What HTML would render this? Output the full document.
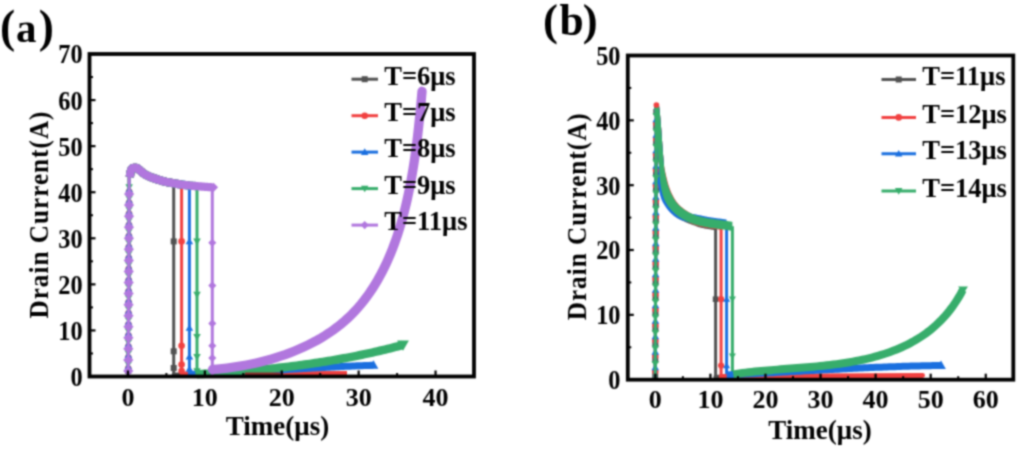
<!DOCTYPE html>
<html><head><meta charset="utf-8"><style>
html,body{margin:0;padding:0;background:#fff;width:1018px;height:449px;overflow:hidden}
svg{display:block}
</style></head><body>
<svg width="1018" height="449" viewBox="0 0 1018 449"><defs><filter id="bl" x="0" y="0" width="1018" height="449" filterUnits="userSpaceOnUse" color-interpolation-filters="sRGB"><feConvolveMatrix order="5" kernelMatrix="0.00048 0.00501 0.01095 0.00501 0.00048 0.00501 0.05222 0.11405 0.05222 0.00501 0.01095 0.11405 0.24912 0.11405 0.01095 0.00501 0.05222 0.11405 0.05222 0.00501 0.00048 0.00501 0.01095 0.00501 0.00048" edgeMode="duplicate" preserveAlpha="true"/></filter></defs><g filter="url(#bl)"><rect width="1018" height="449" fill="#fff"/><line x1="128.2" y1="376" x2="129.3" y2="170" stroke="#515151" stroke-width="3"/>
<rect x="125.23" y="367.97" width="6" height="6" fill="#515151"/>
<rect x="125.28" y="356.91" width="6" height="6" fill="#515151"/>
<rect x="125.34" y="345.86" width="6" height="6" fill="#515151"/>
<rect x="125.39" y="334.8" width="6" height="6" fill="#515151"/>
<rect x="125.45" y="323.74" width="6" height="6" fill="#515151"/>
<rect x="125.5" y="312.69" width="6" height="6" fill="#515151"/>
<rect x="125.56" y="301.63" width="6" height="6" fill="#515151"/>
<rect x="125.61" y="290.57" width="6" height="6" fill="#515151"/>
<rect x="125.67" y="279.51" width="6" height="6" fill="#515151"/>
<rect x="125.72" y="268.46" width="6" height="6" fill="#515151"/>
<rect x="125.78" y="257.4" width="6" height="6" fill="#515151"/>
<rect x="125.83" y="246.34" width="6" height="6" fill="#515151"/>
<rect x="125.89" y="235.29" width="6" height="6" fill="#515151"/>
<rect x="125.94" y="224.23" width="6" height="6" fill="#515151"/>
<rect x="126" y="213.17" width="6" height="6" fill="#515151"/>
<rect x="126.05" y="202.11" width="6" height="6" fill="#515151"/>
<rect x="126.11" y="191.06" width="6" height="6" fill="#515151"/>
<path d="M129.8,177 L130.49,172.22 L131.19,170.12 L131.88,168.87 L132.57,168.13 L133.27,168 L133.96,168 L134.65,168 L135.35,168 L136.04,168 L136.73,168.02 L137.43,168.3 L138.12,168.81 L138.81,169.45 L139.51,170.09 L140.2,170.65 L140.89,171.2 L141.59,171.78 L142.28,172.37 L142.97,172.95 L143.67,173.5 L144.36,174 L145.05,174.43 L145.75,174.81 L146.44,175.17 L147.13,175.51 L147.83,175.84 L148.52,176.15 L149.21,176.45 L149.91,176.73 L150.6,177 L151.29,177.27 L151.98,177.53 L152.68,177.78 L153.37,178.03 L154.06,178.27 L154.76,178.52 L155.45,178.76 L156.14,179 L156.84,179.23 L157.53,179.46 L158.22,179.69 L158.92,179.91 L159.61,180.13 L160.3,180.34 L161,180.54 L161.69,180.74 L162.38,180.94 L163.08,181.12 L163.77,181.3 L164.46,181.47 L165.16,181.64 L165.85,181.79 L166.54,181.94 L167.24,182.09 L167.93,182.23 L168.62,182.37 L169.32,182.5 L170.01,182.63 L170.7,182.76 L171.4,182.88 L172.09,183.01 L172.78,183.13 L173.48,183.24 L173.7,183.28" fill="none" stroke="#515151" stroke-width="8.3" stroke-linejoin="round" stroke-linecap="butt"/>
<line x1="173.7" y1="183.28" x2="173.7" y2="375" stroke="#515151" stroke-width="3"/>
<rect x="170.7" y="238.4" width="6" height="6" fill="#515151"/>
<rect x="170.7" y="348.3" width="6" height="6" fill="#515151"/>
<rect x="170.7" y="365" width="6" height="6" fill="#515151"/>
<path d="M173.7,374.5 L281,374.5" fill="none" stroke="#515151" stroke-width="4" stroke-linecap="round"/>
<line x1="128.2" y1="376" x2="129.3" y2="170" stroke="#F14040" stroke-width="3"/>
<circle cx="128.24" cy="368.67" r="3.3" fill="#F14040"/>
<circle cx="128.29" cy="357.61" r="3.3" fill="#F14040"/>
<circle cx="128.35" cy="346.55" r="3.3" fill="#F14040"/>
<circle cx="128.4" cy="335.5" r="3.3" fill="#F14040"/>
<circle cx="128.46" cy="324.44" r="3.3" fill="#F14040"/>
<circle cx="128.51" cy="313.38" r="3.3" fill="#F14040"/>
<circle cx="128.57" cy="302.33" r="3.3" fill="#F14040"/>
<circle cx="128.62" cy="291.27" r="3.3" fill="#F14040"/>
<circle cx="128.68" cy="280.21" r="3.3" fill="#F14040"/>
<circle cx="128.73" cy="269.15" r="3.3" fill="#F14040"/>
<circle cx="128.79" cy="258.1" r="3.3" fill="#F14040"/>
<circle cx="128.84" cy="247.04" r="3.3" fill="#F14040"/>
<circle cx="128.9" cy="235.98" r="3.3" fill="#F14040"/>
<circle cx="128.96" cy="224.93" r="3.3" fill="#F14040"/>
<circle cx="129.01" cy="213.87" r="3.3" fill="#F14040"/>
<circle cx="129.07" cy="202.81" r="3.3" fill="#F14040"/>
<circle cx="129.12" cy="191.75" r="3.3" fill="#F14040"/>
<path d="M129.8,177 L130.49,172.22 L131.19,170.12 L131.88,168.87 L132.57,168.13 L133.27,168 L133.96,168 L134.65,168 L135.35,168 L136.04,168 L136.73,168.02 L137.43,168.3 L138.12,168.81 L138.81,169.45 L139.51,170.09 L140.2,170.65 L140.89,171.2 L141.59,171.78 L142.28,172.37 L142.97,172.95 L143.67,173.5 L144.36,174 L145.05,174.43 L145.75,174.81 L146.44,175.17 L147.13,175.51 L147.83,175.84 L148.52,176.15 L149.21,176.45 L149.91,176.73 L150.6,177 L151.29,177.27 L151.98,177.53 L152.68,177.78 L153.37,178.03 L154.06,178.27 L154.76,178.52 L155.45,178.76 L156.14,179 L156.84,179.23 L157.53,179.46 L158.22,179.69 L158.92,179.91 L159.61,180.13 L160.3,180.34 L161,180.54 L161.69,180.74 L162.38,180.94 L163.08,181.12 L163.77,181.3 L164.46,181.47 L165.16,181.64 L165.85,181.79 L166.54,181.94 L167.24,182.09 L167.93,182.23 L168.62,182.37 L169.32,182.5 L170.01,182.63 L170.7,182.76 L171.4,182.88 L172.09,183.01 L172.78,183.13 L173.48,183.24 L174.17,183.36 L174.86,183.48 L175.56,183.59 L176.25,183.71 L176.94,183.82 L177.64,183.94 L178.33,184.05 L179.02,184.16 L179.72,184.27 L180.41,184.37 L181.1,184.48 L181.6,184.55" fill="none" stroke="#F14040" stroke-width="8.3" stroke-linejoin="round" stroke-linecap="butt"/>
<line x1="181.6" y1="184.55" x2="181.6" y2="375" stroke="#F14040" stroke-width="3"/>
<circle cx="181.6" cy="241.4" r="3.3" fill="#F14040"/>
<circle cx="181.6" cy="345.7" r="3.3" fill="#F14040"/>
<circle cx="181.6" cy="364.6" r="3.3" fill="#F14040"/>
<circle cx="181.6" cy="371" r="3.3" fill="#F14040"/>
<path d="M181.6,374 L347,373.4" fill="none" stroke="#F14040" stroke-width="5" stroke-linecap="butt"/>
<line x1="128.2" y1="376" x2="129.3" y2="170" stroke="#1A6FDF" stroke-width="3"/>
<polygon points="128.25,362.61 132,369.18 124.5,369.18" fill="#1A6FDF"/>
<polygon points="128.3,351.56 132.05,358.12 124.55,358.12" fill="#1A6FDF"/>
<polygon points="128.36,340.5 132.11,347.06 124.61,347.06" fill="#1A6FDF"/>
<polygon points="128.41,329.44 132.16,336.01 124.66,336.01" fill="#1A6FDF"/>
<polygon points="128.47,318.39 132.22,324.95 124.72,324.95" fill="#1A6FDF"/>
<polygon points="128.52,307.33 132.27,313.89 124.77,313.89" fill="#1A6FDF"/>
<polygon points="128.58,296.27 132.33,302.83 124.83,302.83" fill="#1A6FDF"/>
<polygon points="128.64,285.21 132.39,291.78 124.89,291.78" fill="#1A6FDF"/>
<polygon points="128.69,274.16 132.44,280.72 124.94,280.72" fill="#1A6FDF"/>
<polygon points="128.75,263.1 132.5,269.66 125,269.66" fill="#1A6FDF"/>
<polygon points="128.8,252.04 132.55,258.61 125.05,258.61" fill="#1A6FDF"/>
<polygon points="128.86,240.99 132.61,247.55 125.11,247.55" fill="#1A6FDF"/>
<polygon points="128.91,229.93 132.66,236.49 125.16,236.49" fill="#1A6FDF"/>
<polygon points="128.97,218.87 132.72,225.43 125.22,225.43" fill="#1A6FDF"/>
<polygon points="129.02,207.81 132.77,214.38 125.27,214.38" fill="#1A6FDF"/>
<polygon points="129.08,196.76 132.83,203.32 125.33,203.32" fill="#1A6FDF"/>
<polygon points="129.13,185.7 132.88,192.26 125.38,192.26" fill="#1A6FDF"/>
<path d="M129.8,177 L130.49,172.22 L131.19,170.12 L131.88,168.87 L132.57,168.13 L133.27,168 L133.96,168 L134.65,168 L135.35,168 L136.04,168 L136.73,168.02 L137.43,168.3 L138.12,168.81 L138.81,169.45 L139.51,170.09 L140.2,170.65 L140.89,171.2 L141.59,171.78 L142.28,172.37 L142.97,172.95 L143.67,173.5 L144.36,174 L145.05,174.43 L145.75,174.81 L146.44,175.17 L147.13,175.51 L147.83,175.84 L148.52,176.15 L149.21,176.45 L149.91,176.73 L150.6,177 L151.29,177.27 L151.98,177.53 L152.68,177.78 L153.37,178.03 L154.06,178.27 L154.76,178.52 L155.45,178.76 L156.14,179 L156.84,179.23 L157.53,179.46 L158.22,179.69 L158.92,179.91 L159.61,180.13 L160.3,180.34 L161,180.54 L161.69,180.74 L162.38,180.94 L163.08,181.12 L163.77,181.3 L164.46,181.47 L165.16,181.64 L165.85,181.79 L166.54,181.94 L167.24,182.09 L167.93,182.23 L168.62,182.37 L169.32,182.5 L170.01,182.63 L170.7,182.76 L171.4,182.88 L172.09,183.01 L172.78,183.13 L173.48,183.24 L174.17,183.36 L174.86,183.48 L175.56,183.59 L176.25,183.71 L176.94,183.82 L177.64,183.94 L178.33,184.05 L179.02,184.16 L179.72,184.27 L180.41,184.37 L181.1,184.48 L181.8,184.58 L182.49,184.67 L183.18,184.77 L183.88,184.86 L184.57,184.95 L185.26,185.03 L185.96,185.11 L186.65,185.19 L187.34,185.27 L188.04,185.34 L188.73,185.41 L189.4,185.48" fill="none" stroke="#1A6FDF" stroke-width="8.3" stroke-linejoin="round" stroke-linecap="butt"/>
<line x1="189.4" y1="185.48" x2="189.4" y2="375" stroke="#1A6FDF" stroke-width="3"/>
<polygon points="189.4,237.65 193.15,244.21 185.65,244.21" fill="#1A6FDF"/>
<polygon points="189.4,324.15 193.15,330.71 185.65,330.71" fill="#1A6FDF"/>
<polygon points="189.4,353.05 193.15,359.61 185.65,359.61" fill="#1A6FDF"/>
<polygon points="189.4,365.25 193.15,371.81 185.65,371.81" fill="#1A6FDF"/>
<path d="M189.39,374.31 L191.72,374.24 L194.06,374.16 L196.39,374.08 L198.72,374 L201.05,373.91 L203.39,373.82 L205.72,373.73 L208.05,373.63 L210.38,373.54 L212.71,373.44 L215.04,373.34 L217.38,373.24 L219.71,373.13 L222.04,373.02 L224.37,372.91 L226.7,372.8 L229.03,372.69 L231.36,372.58 L233.69,372.46 L236.02,372.34 L238.35,372.22 L240.68,372.1 L243.01,371.98 L245.34,371.86 L247.67,371.73 L250,371.61 L252.33,371.48 L254.66,371.35 L256.99,371.22 L259.32,371.09 L261.65,370.96 L263.98,370.83 L266.31,370.7 L268.64,370.57 L270.97,370.44 L273.3,370.3 L275.63,370.17 L277.96,370.04 L280.29,369.9 L282.62,369.77 L284.95,369.64 L287.28,369.5 L289.61,369.37 L291.94,369.23 L294.27,369.1 L296.6,368.97 L298.93,368.83 L301.25,368.7 L303.58,368.57 L305.91,368.44 L308.24,368.31 L310.57,368.18 L312.9,368.05 L315.23,367.92 L317.56,367.79 L319.89,367.67 L322.22,367.54 L324.55,367.42 L326.88,367.29 L329.21,367.17 L331.54,367.05 L333.87,366.93 L336.2,366.82 L338.53,366.7 L340.86,366.59 L343.19,366.47 L345.52,366.36 L347.85,366.26 L350.18,366.15 L352.51,366.04 L354.84,365.94 L357.18,365.84 L359.51,365.74 L361.84,365.65 L364.17,365.55 L366.5,365.46 L368.83,365.38 L371.16,365.29 L373.49,365.21" fill="none" stroke="#1A6FDF" stroke-width="7" stroke-linecap="butt"/>
<polygon points="373.49,360.35 378.36,368.85 368.63,368.85" fill="#1A6FDF"/>
<line x1="128.2" y1="376" x2="129.3" y2="170" stroke="#37AD6B" stroke-width="3"/>
<polygon points="128.26,367.81 132.01,361.25 124.51,361.25" fill="#37AD6B"/>
<polygon points="128.31,356.75 132.06,350.19 124.56,350.19" fill="#37AD6B"/>
<polygon points="128.37,345.7 132.12,339.13 124.62,339.13" fill="#37AD6B"/>
<polygon points="128.43,334.64 132.18,328.08 124.68,328.08" fill="#37AD6B"/>
<polygon points="128.48,323.58 132.23,317.02 124.73,317.02" fill="#37AD6B"/>
<polygon points="128.54,312.53 132.29,305.96 124.79,305.96" fill="#37AD6B"/>
<polygon points="128.59,301.47 132.34,294.91 124.84,294.91" fill="#37AD6B"/>
<polygon points="128.65,290.41 132.4,283.85 124.9,283.85" fill="#37AD6B"/>
<polygon points="128.7,279.35 132.45,272.79 124.95,272.79" fill="#37AD6B"/>
<polygon points="128.76,268.3 132.51,261.73 125.01,261.73" fill="#37AD6B"/>
<polygon points="128.81,257.24 132.56,250.68 125.06,250.68" fill="#37AD6B"/>
<polygon points="128.87,246.18 132.62,239.62 125.12,239.62" fill="#37AD6B"/>
<polygon points="128.92,235.13 132.67,228.56 125.17,228.56" fill="#37AD6B"/>
<polygon points="128.98,224.07 132.73,217.51 125.23,217.51" fill="#37AD6B"/>
<polygon points="129.03,213.01 132.78,206.45 125.28,206.45" fill="#37AD6B"/>
<polygon points="129.09,201.95 132.84,195.39 125.34,195.39" fill="#37AD6B"/>
<polygon points="129.14,190.9 132.89,184.33 125.39,184.33" fill="#37AD6B"/>
<path d="M129.8,177 L130.49,172.22 L131.19,170.12 L131.88,168.87 L132.57,168.13 L133.27,168 L133.96,168 L134.65,168 L135.35,168 L136.04,168 L136.73,168.02 L137.43,168.3 L138.12,168.81 L138.81,169.45 L139.51,170.09 L140.2,170.65 L140.89,171.2 L141.59,171.78 L142.28,172.37 L142.97,172.95 L143.67,173.5 L144.36,174 L145.05,174.43 L145.75,174.81 L146.44,175.17 L147.13,175.51 L147.83,175.84 L148.52,176.15 L149.21,176.45 L149.91,176.73 L150.6,177 L151.29,177.27 L151.98,177.53 L152.68,177.78 L153.37,178.03 L154.06,178.27 L154.76,178.52 L155.45,178.76 L156.14,179 L156.84,179.23 L157.53,179.46 L158.22,179.69 L158.92,179.91 L159.61,180.13 L160.3,180.34 L161,180.54 L161.69,180.74 L162.38,180.94 L163.08,181.12 L163.77,181.3 L164.46,181.47 L165.16,181.64 L165.85,181.79 L166.54,181.94 L167.24,182.09 L167.93,182.23 L168.62,182.37 L169.32,182.5 L170.01,182.63 L170.7,182.76 L171.4,182.88 L172.09,183.01 L172.78,183.13 L173.48,183.24 L174.17,183.36 L174.86,183.48 L175.56,183.59 L176.25,183.71 L176.94,183.82 L177.64,183.94 L178.33,184.05 L179.02,184.16 L179.72,184.27 L180.41,184.37 L181.1,184.48 L181.8,184.58 L182.49,184.67 L183.18,184.77 L183.88,184.86 L184.57,184.95 L185.26,185.03 L185.96,185.11 L186.65,185.19 L187.34,185.27 L188.04,185.34 L188.73,185.41 L189.42,185.48 L190.12,185.55 L190.81,185.62 L191.5,185.68 L192.19,185.75 L192.89,185.81 L193.58,185.87 L194.27,185.94 L194.97,186 L195.66,186.06 L196.35,186.12 L197,186.17" fill="none" stroke="#37AD6B" stroke-width="8.3" stroke-linejoin="round" stroke-linecap="butt"/>
<line x1="197" y1="186.17" x2="197" y2="375" stroke="#37AD6B" stroke-width="3"/>
<polygon points="197,245.15 200.75,238.59 193.25,238.59" fill="#37AD6B"/>
<polygon points="197,298.25 200.75,291.69 193.25,291.69" fill="#37AD6B"/>
<polygon points="197,340.55 200.75,333.99 193.25,333.99" fill="#37AD6B"/>
<polygon points="197,360.55 200.75,353.99 193.25,353.99" fill="#37AD6B"/>
<polygon points="197,374.75 200.75,368.19 193.25,368.19" fill="#37AD6B"/>
<path d="M196.99,374.26 L199.62,374.13 L202.26,373.99 L204.89,373.84 L207.52,373.7 L210.15,373.54 L212.79,373.39 L215.42,373.23 L218.05,373.06 L220.68,372.89 L223.32,372.72 L225.95,372.54 L228.58,372.36 L231.21,372.17 L233.85,371.97 L236.48,371.77 L239.11,371.57 L241.74,371.36 L244.37,371.15 L247,370.93 L249.63,370.7 L252.26,370.47 L254.89,370.23 L257.52,369.99 L260.15,369.74 L262.77,369.49 L265.4,369.23 L268.03,368.96 L270.65,368.69 L273.28,368.42 L275.9,368.13 L278.52,367.84 L281.15,367.54 L283.77,367.24 L286.39,366.93 L289.01,366.61 L291.63,366.29 L294.25,365.96 L296.86,365.63 L299.48,365.28 L302.1,364.93 L304.71,364.57 L307.32,364.21 L309.94,363.84 L312.55,363.46 L315.16,363.07 L317.77,362.68 L320.37,362.27 L322.98,361.86 L325.58,361.45 L328.19,361.02 L330.79,360.59 L333.39,360.15 L335.99,359.7 L338.59,359.24 L341.19,358.78 L343.78,358.3 L346.38,357.82 L348.97,357.33 L351.56,356.83 L354.15,356.33 L356.74,355.81 L359.32,355.28 L361.91,354.75 L364.49,354.21 L367.07,353.66 L369.65,353.1 L372.23,352.53 L374.8,351.95 L377.37,351.36 L379.95,350.76 L382.52,350.16 L385.08,349.54 L387.65,348.91 L390.21,348.28 L392.77,347.63 L395.33,346.98 L397.89,346.31 L400.45,345.64 L403,344.95" fill="none" stroke="#37AD6B" stroke-width="8.5" stroke-linecap="butt"/>
<polygon points="403,350.85 408.9,340.52 397.1,340.52" fill="#37AD6B"/>
<line x1="128.2" y1="376" x2="129.3" y2="170" stroke="#B177DE" stroke-width="3"/>
<polygon points="128.23,365.84 133.36,370.97 128.23,376.1 123.1,370.97" fill="#B177DE"/>
<polygon points="128.28,354.78 133.41,359.91 128.28,365.04 123.15,359.91" fill="#B177DE"/>
<polygon points="128.34,343.73 133.47,348.86 128.34,353.99 123.21,348.86" fill="#B177DE"/>
<polygon points="128.39,332.67 133.52,337.8 128.39,342.93 123.26,337.8" fill="#B177DE"/>
<polygon points="128.45,321.61 133.58,326.74 128.45,331.87 123.32,326.74" fill="#B177DE"/>
<polygon points="128.5,310.56 133.63,315.69 128.5,320.82 123.37,315.69" fill="#B177DE"/>
<polygon points="128.56,299.5 133.69,304.63 128.56,309.76 123.43,304.63" fill="#B177DE"/>
<polygon points="128.61,288.44 133.74,293.57 128.61,298.7 123.48,293.57" fill="#B177DE"/>
<polygon points="128.67,277.38 133.8,282.51 128.67,287.64 123.54,282.51" fill="#B177DE"/>
<polygon points="128.72,266.33 133.85,271.46 128.72,276.59 123.59,271.46" fill="#B177DE"/>
<polygon points="128.78,255.27 133.91,260.4 128.78,265.53 123.65,260.4" fill="#B177DE"/>
<polygon points="128.83,244.21 133.96,249.34 128.83,254.47 123.7,249.34" fill="#B177DE"/>
<polygon points="128.89,233.16 134.02,238.29 128.89,243.42 123.76,238.29" fill="#B177DE"/>
<polygon points="128.94,222.1 134.07,227.23 128.94,232.36 123.81,227.23" fill="#B177DE"/>
<polygon points="129,211.04 134.13,216.17 129,221.3 123.87,216.17" fill="#B177DE"/>
<polygon points="129.05,199.98 134.18,205.11 129.05,210.24 123.92,205.11" fill="#B177DE"/>
<polygon points="129.11,188.93 134.24,194.06 129.11,199.19 123.98,194.06" fill="#B177DE"/>
<path d="M129.8,177 L130.49,172.22 L131.19,170.12 L131.88,168.87 L132.57,168.13 L133.27,168 L133.96,168 L134.65,168 L135.35,168 L136.04,168 L136.73,168.02 L137.43,168.3 L138.12,168.81 L138.81,169.45 L139.51,170.09 L140.2,170.65 L140.89,171.2 L141.59,171.78 L142.28,172.37 L142.97,172.95 L143.67,173.5 L144.36,174 L145.05,174.43 L145.75,174.81 L146.44,175.17 L147.13,175.51 L147.83,175.84 L148.52,176.15 L149.21,176.45 L149.91,176.73 L150.6,177 L151.29,177.27 L151.98,177.53 L152.68,177.78 L153.37,178.03 L154.06,178.27 L154.76,178.52 L155.45,178.76 L156.14,179 L156.84,179.23 L157.53,179.46 L158.22,179.69 L158.92,179.91 L159.61,180.13 L160.3,180.34 L161,180.54 L161.69,180.74 L162.38,180.94 L163.08,181.12 L163.77,181.3 L164.46,181.47 L165.16,181.64 L165.85,181.79 L166.54,181.94 L167.24,182.09 L167.93,182.23 L168.62,182.37 L169.32,182.5 L170.01,182.63 L170.7,182.76 L171.4,182.88 L172.09,183.01 L172.78,183.13 L173.48,183.24 L174.17,183.36 L174.86,183.48 L175.56,183.59 L176.25,183.71 L176.94,183.82 L177.64,183.94 L178.33,184.05 L179.02,184.16 L179.72,184.27 L180.41,184.37 L181.1,184.48 L181.8,184.58 L182.49,184.67 L183.18,184.77 L183.88,184.86 L184.57,184.95 L185.26,185.03 L185.96,185.11 L186.65,185.19 L187.34,185.27 L188.04,185.34 L188.73,185.41 L189.42,185.48 L190.12,185.55 L190.81,185.62 L191.5,185.68 L192.19,185.75 L192.89,185.81 L193.58,185.87 L194.27,185.94 L194.97,186 L195.66,186.06 L196.35,186.12 L197.05,186.18 L197.74,186.24 L198.43,186.29 L199.13,186.35 L199.82,186.4 L200.51,186.46 L201.21,186.51 L201.9,186.57 L202.59,186.62 L203.29,186.67 L203.98,186.72 L204.67,186.78 L205.37,186.83 L206.06,186.88 L206.75,186.93 L207.45,186.98 L208.14,187.02 L208.83,187.07 L209.53,187.12 L210.22,187.16 L210.91,187.21 L211.61,187.26 L212.3,187.3" fill="none" stroke="#B177DE" stroke-width="8.3" stroke-linejoin="round" stroke-linecap="butt"/>
<line x1="212.3" y1="187.3" x2="212.3" y2="375" stroke="#B177DE" stroke-width="3"/>
<polygon points="213.5,182.71 218.09,187.3 213.5,191.89 208.91,187.3" fill="#B177DE"/>
<polygon points="212.3,238.65 216.35,242.7 212.3,246.75 208.25,242.7" fill="#B177DE"/>
<polygon points="212.3,281.55 216.35,285.6 212.3,289.65 208.25,285.6" fill="#B177DE"/>
<polygon points="212.3,319.35 216.35,323.4 212.3,327.45 208.25,323.4" fill="#B177DE"/>
<polygon points="212.3,341.65 216.35,345.7 212.3,349.75 208.25,345.7" fill="#B177DE"/>
<polygon points="212.3,353.95 216.35,358 212.3,362.05 208.25,358" fill="#B177DE"/>
<path d="M212.52,369.49 L217.32,369.09 L222.15,368.62 L227,368.06 L231.87,367.42 L236.76,366.69 L241.65,365.88 L246.55,364.98 L251.44,364 L256.33,362.92 L261.2,361.76 L266.06,360.51 L270.9,359.16 L275.71,357.72 L280.48,356.19 L285.22,354.56 L289.91,352.83 L294.56,351 L299.15,349.08 L303.68,347.05 L308.15,344.93 L312.55,342.7 L316.88,340.36 L321.13,337.93 L325.29,335.38 L329.36,332.73 L333.34,329.97 L337.22,327.09 L340.99,324.11 L344.66,321.02 L348.21,317.81 L351.64,314.49 L354.95,311.06 L358.16,307.52 L361.25,303.89 L364.24,300.15 L367.12,296.32 L369.89,292.4 L372.57,288.39 L375.14,284.3 L377.62,280.12 L380.01,275.87 L382.3,271.55 L384.5,267.15 L386.61,262.69 L388.64,258.16 L390.58,253.57 L392.44,248.93 L394.22,244.23 L395.93,239.49 L397.56,234.69 L399.11,229.86 L400.6,224.98 L402.02,220.07 L403.37,215.13 L404.65,210.16 L405.88,205.16 L407.04,200.15 L408.15,195.11 L409.21,190.06 L410.21,185 L411.15,179.92 L412.05,174.85 L412.91,169.77 L413.72,164.7 L414.49,159.63 L415.21,154.57 L415.9,149.53 L416.56,144.5 L417.18,139.49 L417.77,134.51 L418.33,129.55 L418.86,124.62 L419.37,119.73 L419.86,114.87 L420.33,110.05 L420.78,105.28 L421.21,100.56 L421.63,95.88 L422.04,91.27" fill="none" stroke="#B177DE" stroke-width="9.3" stroke-linecap="round"/>
<line x1="245" y1="374.3" x2="280" y2="374.3" stroke="#8f2d2d" stroke-width="3.5"/>
<line x1="127.95" y1="376.5" x2="127.95" y2="370.5" stroke="#000" stroke-width="2.2"/>
<line x1="204.85" y1="376.5" x2="204.85" y2="370.5" stroke="#000" stroke-width="2.2"/>
<line x1="281.75" y1="376.5" x2="281.75" y2="370.5" stroke="#000" stroke-width="2.2"/>
<line x1="358.65" y1="376.5" x2="358.65" y2="370.5" stroke="#000" stroke-width="2.2"/>
<line x1="435.55" y1="376.5" x2="435.55" y2="370.5" stroke="#000" stroke-width="2.2"/>
<line x1="89.5" y1="376.5" x2="89.5" y2="373" stroke="#000" stroke-width="2"/>
<line x1="166.4" y1="376.5" x2="166.4" y2="373" stroke="#000" stroke-width="2"/>
<line x1="243.3" y1="376.5" x2="243.3" y2="373" stroke="#000" stroke-width="2"/>
<line x1="320.2" y1="376.5" x2="320.2" y2="373" stroke="#000" stroke-width="2"/>
<line x1="397.1" y1="376.5" x2="397.1" y2="373" stroke="#000" stroke-width="2"/>
<line x1="89.5" y1="376.5" x2="95.5" y2="376.5" stroke="#000" stroke-width="2.2"/>
<line x1="89.5" y1="330.43" x2="95.5" y2="330.43" stroke="#000" stroke-width="2.2"/>
<line x1="89.5" y1="284.36" x2="95.5" y2="284.36" stroke="#000" stroke-width="2.2"/>
<line x1="89.5" y1="238.29" x2="95.5" y2="238.29" stroke="#000" stroke-width="2.2"/>
<line x1="89.5" y1="192.21" x2="95.5" y2="192.21" stroke="#000" stroke-width="2.2"/>
<line x1="89.5" y1="146.14" x2="95.5" y2="146.14" stroke="#000" stroke-width="2.2"/>
<line x1="89.5" y1="100.07" x2="95.5" y2="100.07" stroke="#000" stroke-width="2.2"/>
<line x1="89.5" y1="54" x2="95.5" y2="54" stroke="#000" stroke-width="2.2"/>
<line x1="89.5" y1="353.46" x2="93" y2="353.46" stroke="#000" stroke-width="2"/>
<line x1="89.5" y1="307.39" x2="93" y2="307.39" stroke="#000" stroke-width="2"/>
<line x1="89.5" y1="261.32" x2="93" y2="261.32" stroke="#000" stroke-width="2"/>
<line x1="89.5" y1="215.25" x2="93" y2="215.25" stroke="#000" stroke-width="2"/>
<line x1="89.5" y1="169.18" x2="93" y2="169.18" stroke="#000" stroke-width="2"/>
<line x1="89.5" y1="123.11" x2="93" y2="123.11" stroke="#000" stroke-width="2"/>
<line x1="89.5" y1="77.04" x2="93" y2="77.04" stroke="#000" stroke-width="2"/>
<rect x="89.5" y="54" width="384.5" height="322.5" fill="none" stroke="#000" stroke-width="3.8"/>
<text x="127.95" y="405.6" text-anchor="middle" style="font-family:'Liberation Serif',serif;font-weight:bold;font-size:26px">0</text>
<text x="204.85" y="405.6" text-anchor="middle" style="font-family:'Liberation Serif',serif;font-weight:bold;font-size:26px">10</text>
<text x="281.75" y="405.6" text-anchor="middle" style="font-family:'Liberation Serif',serif;font-weight:bold;font-size:26px">20</text>
<text x="358.65" y="405.6" text-anchor="middle" style="font-family:'Liberation Serif',serif;font-weight:bold;font-size:26px">30</text>
<text x="435.55" y="405.6" text-anchor="middle" style="font-family:'Liberation Serif',serif;font-weight:bold;font-size:26px">40</text>
<text transform="translate(82.6,385.96) scale(0.87,1)" text-anchor="end" style="font-family:'Liberation Serif',serif;font-weight:bold;font-size:28px">0</text>
<text transform="translate(82.6,339.88) scale(0.87,1)" text-anchor="end" style="font-family:'Liberation Serif',serif;font-weight:bold;font-size:28px">10</text>
<text transform="translate(82.6,293.81) scale(0.87,1)" text-anchor="end" style="font-family:'Liberation Serif',serif;font-weight:bold;font-size:28px">20</text>
<text transform="translate(82.6,247.74) scale(0.87,1)" text-anchor="end" style="font-family:'Liberation Serif',serif;font-weight:bold;font-size:28px">30</text>
<text transform="translate(82.6,201.67) scale(0.87,1)" text-anchor="end" style="font-family:'Liberation Serif',serif;font-weight:bold;font-size:28px">40</text>
<text transform="translate(82.6,155.6) scale(0.87,1)" text-anchor="end" style="font-family:'Liberation Serif',serif;font-weight:bold;font-size:28px">50</text>
<text transform="translate(82.6,109.53) scale(0.87,1)" text-anchor="end" style="font-family:'Liberation Serif',serif;font-weight:bold;font-size:28px">60</text>
<text transform="translate(82.6,63.46) scale(0.87,1)" text-anchor="end" style="font-family:'Liberation Serif',serif;font-weight:bold;font-size:28px">70</text>
<text x="277.5" y="435" text-anchor="middle" style="font-family:'Liberation Serif',serif;font-weight:bold;font-size:27px">Time(μs)</text>
<text transform="translate(47.5,215) rotate(-90) scale(0.93,1)" text-anchor="middle" textLength="222.58" lengthAdjust="spacing" style="font-family:'Liberation Serif',serif;font-weight:bold;font-size:27px">Drain Current(A)</text>
<text x="0" y="41.8" style="font-family:'Liberation Serif',serif;font-weight:bold;font-size:45.5px">(<tspan dx="0.8" style="font-size:41px">a</tspan><tspan dx="2.2">)</tspan></text>
<line x1="351.5" y1="79.2" x2="378" y2="79.2" stroke="#515151" stroke-width="3"/>
<rect x="361.7" y="76.2" width="6" height="6" fill="#515151"/>
<text x="384.3" y="84.5" style="font-family:'Liberation Serif',serif;font-weight:bold;font-size:26.5px">T=6μs</text>
<line x1="351.5" y1="115.7" x2="378" y2="115.7" stroke="#F14040" stroke-width="3"/>
<circle cx="364.7" cy="115.7" r="3.3" fill="#F14040"/>
<text x="384.3" y="121" style="font-family:'Liberation Serif',serif;font-weight:bold;font-size:26.5px">T=7μs</text>
<line x1="351.5" y1="152.1" x2="378" y2="152.1" stroke="#1A6FDF" stroke-width="3"/>
<polygon points="364.7,148.35 368.45,154.91 360.95,154.91" fill="#1A6FDF"/>
<text x="384.3" y="157.4" style="font-family:'Liberation Serif',serif;font-weight:bold;font-size:26.5px">T=8μs</text>
<line x1="351.5" y1="188.6" x2="378" y2="188.6" stroke="#37AD6B" stroke-width="3"/>
<polygon points="364.7,192.35 368.45,185.79 360.95,185.79" fill="#37AD6B"/>
<text x="384.3" y="193.9" style="font-family:'Liberation Serif',serif;font-weight:bold;font-size:26.5px">T=9μs</text>
<line x1="351.5" y1="225.1" x2="378" y2="225.1" stroke="#B177DE" stroke-width="3"/>
<polygon points="364.7,221.05 368.75,225.1 364.7,229.15 360.65,225.1" fill="#B177DE"/>
<text x="384.3" y="230.4" style="font-family:'Liberation Serif',serif;font-weight:bold;font-size:26.5px">T=11μs</text>
<line x1="655.2" y1="379" x2="656.3" y2="104" stroke="#515151" stroke-width="3"/>
<rect x="652.21" y="372.5" width="6" height="6" fill="#515151"/>
<rect x="652.28" y="357" width="6" height="6" fill="#515151"/>
<rect x="652.34" y="341.5" width="6" height="6" fill="#515151"/>
<rect x="652.4" y="326" width="6" height="6" fill="#515151"/>
<rect x="652.46" y="310.5" width="6" height="6" fill="#515151"/>
<rect x="652.52" y="295" width="6" height="6" fill="#515151"/>
<rect x="652.59" y="279.5" width="6" height="6" fill="#515151"/>
<rect x="652.65" y="264" width="6" height="6" fill="#515151"/>
<rect x="652.71" y="248.5" width="6" height="6" fill="#515151"/>
<rect x="652.77" y="233" width="6" height="6" fill="#515151"/>
<rect x="652.83" y="217.5" width="6" height="6" fill="#515151"/>
<rect x="652.9" y="202" width="6" height="6" fill="#515151"/>
<rect x="652.96" y="186.5" width="6" height="6" fill="#515151"/>
<rect x="653.02" y="171" width="6" height="6" fill="#515151"/>
<rect x="653.08" y="155.5" width="6" height="6" fill="#515151"/>
<rect x="653.14" y="140" width="6" height="6" fill="#515151"/>
<rect x="653.21" y="124.5" width="6" height="6" fill="#515151"/>
<rect x="653.27" y="109" width="6" height="6" fill="#515151"/>
<path d="M654.07,106.3 L654.17,107.16 L654.26,108.01 L654.36,108.86 L654.45,109.7 L654.54,110.55 L654.63,111.39 L654.72,112.24 L654.81,113.08 L654.89,113.92 L654.98,114.76 L655.06,115.6 L655.14,116.44 L655.22,117.28 L655.29,118.11 L655.37,118.95 L655.44,119.78 L655.52,120.62 L655.59,121.45 L655.66,122.28 L655.73,123.11 L655.8,123.95 L655.86,124.78 L655.93,125.61 L656,126.44 L656.06,127.27 L656.12,128.1 L656.19,128.93 L656.25,129.76 L656.31,130.59 L656.37,131.41 L656.43,132.24 L656.49,133.07 L656.55,133.9 L656.61,134.73 L656.67,135.56 L656.73,136.39 L656.79,137.22 L656.85,138.05 L656.9,138.88 L656.96,139.71 L657.02,140.54 L657.08,141.37 L657.14,142.2 L657.2,143.04 L657.26,143.87 L657.31,144.7 L657.37,145.54 L657.43,146.37 L657.49,147.21 L657.55,148.04 L657.62,148.88 L657.68,149.72 L657.74,150.56 L657.8,151.4 L657.87,152.24 L657.93,153.08 L658,153.93 L658.06,154.77 L658.13,155.62 L658.2,156.47 L658.27,157.31 L658.34,158.17 L658.41,159.02 L658.48,159.87 L658.56,160.72 L658.63,161.58 L658.71,162.44 L658.79,163.3 L658.87,164.16 L658.95,164.95 L658.98,165.81 L659.01,166.76 L659.04,167.73 L659.03,168.71 L658.99,169.68 L658.96,170.67 L658.94,171.65 L658.91,172.64 L658.89,173.62 L658.87,174.61 L658.86,175.61 L658.85,176.6 L658.84,177.59 L658.84,178.59 L658.85,179.58 L658.86,180.58 L658.88,181.62 L658.95,182.7 L659.06,183.67 L659.16,184.57 L659.28,185.46 L659.4,186.36 L659.53,187.25 L659.66,188.14 L659.81,189.03 L659.97,189.92 L660.14,190.81 L660.32,191.69 L660.51,192.58 L660.71,193.46 L660.92,194.33 L661.15,195.21 L661.39,196.08 L661.64,196.94 L661.91,197.8 L662.19,198.66 L662.49,199.52 L662.83,200.35 L663.21,201.17 L663.6,201.99 L664,202.8 L664.42,203.6 L664.86,204.39 L665.32,205.17 L665.79,205.95 L666.28,206.71 L666.78,207.46 L667.31,208.2 L667.84,208.92 L668.39,209.64 L668.96,210.34 L669.54,211.02 L670.13,211.7 L670.74,212.36 L671.36,213.01 L672,213.64 L672.64,214.27 L673.3,214.88 L673.97,215.47 L674.65,216.06 L675.35,216.63 L676.19,217.29 L677.15,217.92 L677.99,218.4 L678.78,218.84 L679.58,219.26 L680.4,219.66 L681.22,220.06 L681.98,220.4 L682.65,220.72 L683.39,221.1 L684.24,221.52 L685.1,221.93 L685.96,222.32 L686.84,222.7 L687.72,223.07 L688.6,223.42 L689.5,223.77 L690.4,224.1 L691.31,224.41 L692.22,224.72 L693.04,224.98 L693.69,225.2 L694.4,225.51 L695.28,225.87 L696.16,226.22 L697.04,226.56 L697.99,226.92 L699.09,227.27 L700.12,227.52 L701.01,227.72 L701.91,227.92 L702.8,228.11 L703.7,228.29 L704.59,228.47 L705.49,228.63 L706.38,228.79 L707.28,228.94 L708.17,229.09 L709.06,229.23 L709.95,229.37 L710.84,229.5 L711.73,229.63 L712.61,229.76 L713.49,229.88 L714.62,230.02 L715.6,230.03 L715.6,221.03 L715.31,221.05 L714.7,220.96 L713.85,220.84 L713,220.72 L712.15,220.6 L711.3,220.47 L710.45,220.34 L709.61,220.21 L708.77,220.07 L707.93,219.93 L707.1,219.78 L706.27,219.62 L705.44,219.46 L704.62,219.3 L703.81,219.12 L703,218.95 L702.19,218.76 L701.53,218.6 L700.94,218.41 L700.22,218.14 L699.43,217.84 L698.66,217.53 L697.88,217.21 L696.96,216.82 L695.91,216.45 L695.01,216.16 L694.22,215.9 L693.43,215.62 L692.65,215.34 L691.88,215.04 L691.12,214.74 L690.37,214.42 L689.62,214.1 L688.88,213.76 L688.15,213.42 L687.44,213.06 L686.63,212.65 L685.77,212.24 L685.02,211.9 L684.35,211.58 L683.69,211.25 L683.04,210.91 L682.4,210.56 L681.84,210.23 L681.44,209.98 L681,209.63 L680.44,209.17 L679.89,208.7 L679.35,208.21 L678.82,207.73 L678.31,207.23 L677.8,206.72 L677.31,206.2 L676.83,205.68 L676.36,205.15 L675.9,204.6 L675.45,204.05 L675.02,203.49 L674.6,202.93 L674.19,202.35 L673.8,201.76 L673.42,201.17 L673.05,200.57 L672.69,199.95 L672.34,199.32 L672.01,198.68 L671.68,198.03 L671.37,197.37 L671.06,196.7 L670.75,196.02 L670.42,195.35 L670.09,194.66 L669.78,193.97 L669.47,193.26 L669.17,192.55 L668.88,191.82 L668.6,191.08 L668.32,190.34 L668.05,189.58 L667.79,188.82 L667.54,188.05 L667.29,187.27 L667.05,186.48 L666.82,185.69 L666.6,184.88 L666.38,184.08 L666.16,183.26 L665.96,182.45 L665.77,181.7 L665.61,180.94 L665.48,180.05 L665.34,179.11 L665.21,178.16 L665.08,177.2 L664.96,176.25 L664.84,175.29 L664.73,174.33 L664.62,173.36 L664.51,172.4 L664.4,171.44 L664.3,170.47 L664.2,169.51 L664.11,168.54 L664.04,167.58 L664.01,166.61 L663.98,165.63 L663.94,164.62 L663.85,163.69 L663.77,162.84 L663.69,161.99 L663.61,161.14 L663.54,160.29 L663.47,159.44 L663.39,158.59 L663.32,157.75 L663.25,156.9 L663.18,156.06 L663.11,155.22 L663.05,154.38 L662.98,153.54 L662.92,152.7 L662.85,151.86 L662.79,151.02 L662.73,150.19 L662.66,149.35 L662.6,148.52 L662.54,147.68 L662.48,146.85 L662.42,146.01 L662.36,145.18 L662.3,144.35 L662.24,143.52 L662.18,142.68 L662.13,141.85 L662.07,141.02 L662.01,140.19 L661.95,139.36 L661.89,138.53 L661.83,137.7 L661.78,136.87 L661.72,136.04 L661.66,135.21 L661.6,134.37 L661.54,133.54 L661.48,132.71 L661.42,131.88 L661.36,131.05 L661.3,130.22 L661.24,129.38 L661.17,128.55 L661.11,127.72 L661.05,126.88 L660.98,126.05 L660.91,125.21 L660.85,124.38 L660.78,123.54 L660.71,122.7 L660.64,121.86 L660.57,121.02 L660.5,120.18 L660.42,119.34 L660.35,118.5 L660.27,117.66 L660.2,116.81 L660.12,115.97 L660.04,115.12 L659.95,114.27 L659.87,113.42 L659.78,112.57 L659.7,111.72 L659.61,110.87 L659.52,110.01 L659.42,109.16 L659.33,108.3 L659.23,107.44 L659.13,106.58 L659.03,105.72Z" fill="#515151"/>
<line x1="715.6" y1="225.53" x2="715.6" y2="378" stroke="#515151" stroke-width="3"/>
<rect x="712.8" y="296.4" width="5.6" height="5.6" fill="#515151"/>
<line x1="655.2" y1="379" x2="656.3" y2="104" stroke="#F14040" stroke-width="3"/>
<circle cx="655.23" cy="371.5" r="3.3" fill="#F14040"/>
<circle cx="655.29" cy="356" r="3.3" fill="#F14040"/>
<circle cx="655.35" cy="340.5" r="3.3" fill="#F14040"/>
<circle cx="655.42" cy="325" r="3.3" fill="#F14040"/>
<circle cx="655.48" cy="309.5" r="3.3" fill="#F14040"/>
<circle cx="655.54" cy="294" r="3.3" fill="#F14040"/>
<circle cx="655.6" cy="278.5" r="3.3" fill="#F14040"/>
<circle cx="655.66" cy="263" r="3.3" fill="#F14040"/>
<circle cx="655.73" cy="247.5" r="3.3" fill="#F14040"/>
<circle cx="655.79" cy="232" r="3.3" fill="#F14040"/>
<circle cx="655.85" cy="216.5" r="3.3" fill="#F14040"/>
<circle cx="655.91" cy="201" r="3.3" fill="#F14040"/>
<circle cx="655.97" cy="185.5" r="3.3" fill="#F14040"/>
<circle cx="656.04" cy="170" r="3.3" fill="#F14040"/>
<circle cx="656.1" cy="154.5" r="3.3" fill="#F14040"/>
<circle cx="656.16" cy="139" r="3.3" fill="#F14040"/>
<circle cx="656.22" cy="123.5" r="3.3" fill="#F14040"/>
<path d="M654.07,106.3 L654.17,107.16 L654.26,108.01 L654.36,108.86 L654.45,109.7 L654.54,110.55 L654.63,111.39 L654.72,112.24 L654.81,113.08 L654.89,113.92 L654.98,114.76 L655.06,115.6 L655.14,116.44 L655.22,117.28 L655.29,118.11 L655.37,118.95 L655.44,119.78 L655.52,120.62 L655.59,121.45 L655.66,122.28 L655.73,123.11 L655.8,123.95 L655.86,124.78 L655.93,125.61 L656,126.44 L656.06,127.27 L656.12,128.1 L656.19,128.93 L656.25,129.76 L656.31,130.59 L656.37,131.41 L656.43,132.24 L656.49,133.07 L656.55,133.9 L656.61,134.73 L656.67,135.56 L656.73,136.39 L656.79,137.22 L656.85,138.05 L656.9,138.88 L656.96,139.71 L657.02,140.54 L657.08,141.37 L657.14,142.2 L657.2,143.04 L657.26,143.87 L657.31,144.7 L657.37,145.54 L657.43,146.37 L657.49,147.21 L657.55,148.04 L657.62,148.88 L657.68,149.72 L657.74,150.56 L657.8,151.4 L657.87,152.24 L657.93,153.08 L658,153.93 L658.06,154.77 L658.13,155.62 L658.2,156.47 L658.27,157.31 L658.34,158.17 L658.41,159.02 L658.48,159.87 L658.56,160.72 L658.63,161.58 L658.71,162.44 L658.79,163.3 L658.87,164.16 L658.96,165.05 L659.07,165.96 L659.18,166.83 L659.3,167.7 L659.4,168.58 L659.46,169.46 L659.53,170.34 L659.59,171.23 L659.66,172.11 L659.74,173 L659.81,173.89 L659.9,174.79 L659.98,175.68 L660.07,176.58 L660.17,177.47 L660.27,178.37 L660.38,179.27 L660.49,180.14 L660.58,180.99 L660.68,181.85 L660.78,182.75 L660.89,183.64 L661.01,184.53 L661.14,185.43 L661.28,186.32 L661.43,187.21 L661.59,188.09 L661.75,188.98 L661.93,189.86 L662.12,190.74 L662.32,191.62 L662.54,192.5 L662.76,193.37 L663,194.24 L663.26,195.1 L663.52,195.96 L663.8,196.82 L664.1,197.67 L664.41,198.52 L664.74,199.36 L665.1,200.19 L665.5,201 L665.92,201.8 L666.36,202.59 L666.82,203.37 L667.29,204.15 L667.78,204.91 L668.28,205.66 L668.81,206.4 L669.34,207.12 L669.89,207.84 L670.46,208.54 L671.04,209.22 L671.63,209.9 L672.24,210.56 L672.86,211.21 L673.5,211.84 L674.14,212.47 L674.8,213.08 L675.47,213.67 L676.15,214.26 L676.85,214.83 L677.53,215.37 L678.2,215.9 L678.9,216.42 L679.61,216.95 L680.33,217.45 L681.07,217.95 L681.81,218.43 L682.54,218.89 L683.24,219.32 L683.97,219.78 L684.74,220.24 L685.52,220.69 L686.31,221.13 L687.11,221.56 L687.91,221.97 L688.72,222.37 L689.54,222.76 L690.36,223.14 L691.19,223.51 L692.02,223.86 L692.88,224.21 L693.76,224.54 L694.65,224.86 L695.52,225.17 L696.41,225.46 L697.29,225.74 L698.21,226.02 L699.18,226.29 L700.12,226.52 L701.01,226.72 L701.91,226.92 L702.8,227.11 L703.7,227.29 L704.59,227.47 L705.49,227.63 L706.38,227.79 L707.28,227.94 L708.17,228.09 L709.06,228.23 L709.95,228.37 L710.84,228.5 L711.73,228.63 L712.61,228.76 L713.49,228.88 L714.37,228.99 L715.25,229.11 L716.12,229.22 L716.99,229.33 L717.85,229.44 L718.71,229.55 L719.56,229.66 L720.49,229.77 L721.1,229.8 L721.1,220.8 L721.47,220.83 L720.69,220.73 L719.83,220.62 L718.98,220.51 L718.12,220.4 L717.27,220.29 L716.41,220.18 L715.56,220.07 L714.7,219.96 L713.85,219.84 L713,219.72 L712.15,219.6 L711.3,219.47 L710.45,219.34 L709.61,219.21 L708.77,219.07 L707.93,218.93 L707.1,218.78 L706.27,218.62 L705.44,218.46 L704.62,218.3 L703.81,218.12 L703,217.95 L702.19,217.76 L701.44,217.58 L700.73,217.38 L699.97,217.15 L699.18,216.9 L698.41,216.64 L697.64,216.38 L696.89,216.11 L696.18,215.83 L695.47,215.55 L694.76,215.24 L694.05,214.93 L693.35,214.61 L692.66,214.28 L691.97,213.94 L691.29,213.59 L690.62,213.23 L689.96,212.86 L689.3,212.48 L688.66,212.1 L687.98,211.68 L687.3,211.25 L686.66,210.85 L686.05,210.45 L685.45,210.05 L684.86,209.63 L684.27,209.21 L683.69,208.77 L683.1,208.3 L682.5,207.83 L681.94,207.37 L681.39,206.9 L680.85,206.41 L680.32,205.93 L679.81,205.43 L679.3,204.92 L678.81,204.4 L678.33,203.88 L677.86,203.35 L677.4,202.8 L676.95,202.25 L676.52,201.69 L676.1,201.13 L675.69,200.55 L675.3,199.96 L674.92,199.37 L674.55,198.77 L674.19,198.15 L673.84,197.52 L673.51,196.88 L673.18,196.23 L672.83,195.59 L672.48,194.93 L672.14,194.27 L671.81,193.59 L671.48,192.91 L671.16,192.21 L670.86,191.5 L670.56,190.78 L670.26,190.05 L669.98,189.32 L669.7,188.57 L669.44,187.81 L669.18,187.05 L668.92,186.27 L668.68,185.49 L668.44,184.71 L668.2,183.91 L667.98,183.11 L667.76,182.3 L667.55,181.49 L667.34,180.67 L667.13,179.81 L666.91,178.93 L666.69,178.08 L666.48,177.24 L666.27,176.4 L666.06,175.56 L665.86,174.71 L665.67,173.87 L665.47,173.02 L665.29,172.17 L665.1,171.31 L664.92,170.46 L664.74,169.61 L664.56,168.75 L664.38,167.9 L664.25,167.04 L664.14,166.18 L664.03,165.33 L663.93,164.52 L663.85,163.69 L663.77,162.84 L663.69,161.99 L663.61,161.14 L663.54,160.29 L663.47,159.44 L663.39,158.59 L663.32,157.75 L663.25,156.9 L663.18,156.06 L663.11,155.22 L663.05,154.38 L662.98,153.54 L662.92,152.7 L662.85,151.86 L662.79,151.02 L662.73,150.19 L662.66,149.35 L662.6,148.52 L662.54,147.68 L662.48,146.85 L662.42,146.01 L662.36,145.18 L662.3,144.35 L662.24,143.52 L662.18,142.68 L662.13,141.85 L662.07,141.02 L662.01,140.19 L661.95,139.36 L661.89,138.53 L661.83,137.7 L661.78,136.87 L661.72,136.04 L661.66,135.21 L661.6,134.37 L661.54,133.54 L661.48,132.71 L661.42,131.88 L661.36,131.05 L661.3,130.22 L661.24,129.38 L661.17,128.55 L661.11,127.72 L661.05,126.88 L660.98,126.05 L660.91,125.21 L660.85,124.38 L660.78,123.54 L660.71,122.7 L660.64,121.86 L660.57,121.02 L660.5,120.18 L660.42,119.34 L660.35,118.5 L660.27,117.66 L660.2,116.81 L660.12,115.97 L660.04,115.12 L659.95,114.27 L659.87,113.42 L659.78,112.57 L659.7,111.72 L659.61,110.87 L659.52,110.01 L659.42,109.16 L659.33,108.3 L659.23,107.44 L659.13,106.58 L659.03,105.72Z" fill="#F14040"/>
<line x1="721.1" y1="225.3" x2="721.1" y2="378" stroke="#F14040" stroke-width="3"/>
<circle cx="721.1" cy="299.2" r="3.08" fill="#F14040"/>
<circle cx="721.1" cy="365.6" r="3.08" fill="#F14040"/>
<line x1="655.2" y1="379" x2="656.3" y2="104" stroke="#1A6FDF" stroke-width="3"/>
<polygon points="655.25,363.75 659,370.31 651.5,370.31" fill="#1A6FDF"/>
<polygon points="655.31,348.25 659.06,354.81 651.56,354.81" fill="#1A6FDF"/>
<polygon points="655.37,332.75 659.12,339.31 651.62,339.31" fill="#1A6FDF"/>
<polygon points="655.43,317.25 659.18,323.81 651.68,323.81" fill="#1A6FDF"/>
<polygon points="655.49,301.75 659.24,308.31 651.74,308.31" fill="#1A6FDF"/>
<polygon points="655.56,286.25 659.31,292.81 651.81,292.81" fill="#1A6FDF"/>
<polygon points="655.62,270.75 659.37,277.31 651.87,277.31" fill="#1A6FDF"/>
<polygon points="655.68,255.25 659.43,261.81 651.93,261.81" fill="#1A6FDF"/>
<polygon points="655.74,239.75 659.49,246.31 651.99,246.31" fill="#1A6FDF"/>
<polygon points="655.8,224.25 659.55,230.81 652.05,230.81" fill="#1A6FDF"/>
<polygon points="655.87,208.75 659.62,215.31 652.12,215.31" fill="#1A6FDF"/>
<polygon points="655.93,193.25 659.68,199.81 652.18,199.81" fill="#1A6FDF"/>
<polygon points="655.99,177.75 659.74,184.31 652.24,184.31" fill="#1A6FDF"/>
<polygon points="656.05,162.25 659.8,168.81 652.3,168.81" fill="#1A6FDF"/>
<polygon points="656.11,146.75 659.86,153.31 652.36,153.31" fill="#1A6FDF"/>
<polygon points="656.18,131.25 659.93,137.81 652.43,137.81" fill="#1A6FDF"/>
<polygon points="656.24,115.75 659.99,122.31 652.49,122.31" fill="#1A6FDF"/>
<path d="M654.07,106.3 L654.17,107.16 L654.26,108.01 L654.36,108.86 L654.45,109.7 L654.54,110.55 L654.63,111.39 L654.72,112.24 L654.81,113.08 L654.89,113.92 L654.98,114.76 L655.06,115.6 L655.14,116.44 L655.22,117.28 L655.29,118.11 L655.37,118.95 L655.44,119.78 L655.52,120.62 L655.59,121.45 L655.66,122.28 L655.73,123.11 L655.8,123.95 L655.86,124.78 L655.93,125.61 L656,126.44 L656.06,127.27 L656.12,128.1 L656.19,128.93 L656.25,129.76 L656.31,130.59 L656.37,131.41 L656.43,132.24 L656.49,133.07 L656.55,133.9 L656.61,134.73 L656.67,135.56 L656.73,136.39 L656.79,137.22 L656.85,138.05 L656.9,138.88 L656.96,139.71 L657.02,140.54 L657.08,141.37 L657.14,142.2 L657.2,143.04 L657.26,143.87 L657.31,144.7 L657.37,145.54 L657.43,146.37 L657.49,147.21 L657.55,148.04 L657.62,148.88 L657.68,149.72 L657.74,150.56 L657.8,151.4 L657.87,152.24 L657.93,153.08 L658,153.93 L658.06,154.77 L658.13,155.62 L658.2,156.47 L658.27,157.31 L658.34,158.17 L658.41,159.02 L658.48,159.87 L658.56,160.72 L658.63,161.58 L658.71,162.44 L658.79,163.3 L658.87,164.16 L658.94,164.88 L658.93,165.62 L658.89,166.52 L658.85,167.45 L658.78,168.39 L658.68,169.33 L658.58,170.27 L658.48,171.22 L658.39,172.17 L658.3,173.11 L658.21,174.07 L658.13,175.02 L658.05,175.97 L657.98,176.93 L657.91,177.88 L657.85,178.84 L657.79,179.79 L657.74,180.86 L657.78,182.03 L657.9,183.07 L658,183.96 L658.11,184.86 L658.24,185.75 L658.36,186.64 L658.5,187.53 L658.65,188.42 L658.81,189.31 L658.98,190.2 L659.16,191.08 L659.35,191.96 L659.55,192.84 L659.76,193.72 L659.99,194.59 L660.23,195.46 L660.48,196.33 L660.75,197.19 L661.03,198.05 L661.33,198.9 L661.64,199.75 L662.01,200.57 L662.4,201.39 L662.8,202.2 L663.22,203 L663.66,203.79 L664.12,204.57 L664.59,205.35 L665.08,206.11 L665.58,206.86 L666.11,207.6 L666.64,208.32 L667.19,209.04 L667.76,209.74 L668.34,210.42 L668.93,211.1 L669.54,211.76 L670.16,212.41 L670.8,213.04 L671.44,213.67 L672.1,214.28 L672.77,214.87 L673.45,215.46 L674.15,216.03 L675.01,216.7 L676.01,217.35 L676.89,217.85 L677.73,218.31 L678.58,218.76 L679.45,219.19 L680.32,219.61 L681.25,220.04 L682.29,220.46 L683.29,220.8 L684.21,221.09 L685.13,221.37 L686.06,221.63 L687,221.88 L687.95,222.11 L688.9,222.34 L689.86,222.54 L690.83,222.74 L691.81,222.92 L692.79,223.09 L693.7,223.23 L694.43,223.36 L695.18,223.53 L696.06,223.72 L696.95,223.89 L697.84,224.06 L698.66,224.2 L699.35,224.33 L700.12,224.52 L701.01,224.72 L701.91,224.92 L702.8,225.11 L703.7,225.29 L704.59,225.47 L705.49,225.63 L706.38,225.79 L707.28,225.94 L708.17,226.09 L709.06,226.23 L709.95,226.37 L710.84,226.5 L711.73,226.63 L712.61,226.76 L713.49,226.88 L714.37,226.99 L715.25,227.11 L716.12,227.22 L716.99,227.33 L717.85,227.44 L718.71,227.55 L719.56,227.66 L720.41,227.76 L721.26,227.87 L722.09,227.98 L722.93,228.08 L723.75,228.19 L724.57,228.3 L725.64,228.44 L726.6,228.46 L726.6,219.46 L726.36,219.47 L725.78,219.39 L724.94,219.27 L724.09,219.16 L723.24,219.05 L722.39,218.94 L721.54,218.83 L720.69,218.73 L719.83,218.62 L718.98,218.51 L718.12,218.4 L717.27,218.29 L716.41,218.18 L715.56,218.07 L714.7,217.96 L713.85,217.84 L713,217.72 L712.15,217.6 L711.3,217.47 L710.45,217.34 L709.61,217.21 L708.77,217.07 L707.93,216.93 L707.1,216.78 L706.27,216.62 L705.44,216.46 L704.62,216.3 L703.81,216.12 L703,215.95 L702.19,215.76 L701.27,215.54 L700.28,215.34 L699.42,215.2 L698.64,215.05 L697.87,214.9 L697.11,214.74 L696.21,214.54 L695.18,214.35 L694.24,214.2 L693.38,214.06 L692.54,213.9 L691.7,213.73 L690.87,213.55 L690.05,213.36 L689.24,213.16 L688.44,212.95 L687.65,212.73 L686.87,212.49 L686.1,212.25 L685.43,212.02 L684.83,211.78 L684.14,211.46 L683.41,211.11 L682.69,210.75 L681.98,210.38 L681.28,210 L680.66,209.64 L680.22,209.37 L679.8,209.03 L679.24,208.57 L678.69,208.1 L678.15,207.61 L677.62,207.13 L677.11,206.63 L676.6,206.12 L676.11,205.6 L675.63,205.08 L675.16,204.55 L674.7,204 L674.25,203.45 L673.82,202.89 L673.4,202.33 L672.99,201.75 L672.6,201.16 L672.22,200.57 L671.85,199.97 L671.49,199.35 L671.14,198.72 L670.81,198.08 L670.48,197.43 L670.17,196.77 L669.86,196.1 L669.51,195.44 L669.18,194.76 L668.86,194.08 L668.54,193.38 L668.23,192.68 L667.93,191.96 L667.64,191.23 L667.36,190.49 L667.08,189.75 L666.81,188.99 L666.55,188.23 L666.3,187.46 L666.05,186.68 L665.81,185.89 L665.58,185.09 L665.36,184.29 L665.14,183.49 L664.93,182.67 L664.72,181.85 L664.54,181.17 L664.43,180.54 L664.36,179.74 L664.29,178.82 L664.23,177.91 L664.17,176.98 L664.12,176.06 L664.07,175.13 L664.03,174.2 L663.99,173.27 L663.96,172.33 L663.92,171.4 L663.89,170.47 L663.86,169.53 L663.84,168.6 L663.84,167.67 L663.89,166.74 L663.93,165.77 L663.94,164.69 L663.85,163.69 L663.77,162.84 L663.69,161.99 L663.61,161.14 L663.54,160.29 L663.47,159.44 L663.39,158.59 L663.32,157.75 L663.25,156.9 L663.18,156.06 L663.11,155.22 L663.05,154.38 L662.98,153.54 L662.92,152.7 L662.85,151.86 L662.79,151.02 L662.73,150.19 L662.66,149.35 L662.6,148.52 L662.54,147.68 L662.48,146.85 L662.42,146.01 L662.36,145.18 L662.3,144.35 L662.24,143.52 L662.18,142.68 L662.13,141.85 L662.07,141.02 L662.01,140.19 L661.95,139.36 L661.89,138.53 L661.83,137.7 L661.78,136.87 L661.72,136.04 L661.66,135.21 L661.6,134.37 L661.54,133.54 L661.48,132.71 L661.42,131.88 L661.36,131.05 L661.3,130.22 L661.24,129.38 L661.17,128.55 L661.11,127.72 L661.05,126.88 L660.98,126.05 L660.91,125.21 L660.85,124.38 L660.78,123.54 L660.71,122.7 L660.64,121.86 L660.57,121.02 L660.5,120.18 L660.42,119.34 L660.35,118.5 L660.27,117.66 L660.2,116.81 L660.12,115.97 L660.04,115.12 L659.95,114.27 L659.87,113.42 L659.78,112.57 L659.7,111.72 L659.61,110.87 L659.52,110.01 L659.42,109.16 L659.33,108.3 L659.23,107.44 L659.13,106.58 L659.03,105.72Z" fill="#1A6FDF"/>
<line x1="726.6" y1="223.96" x2="726.6" y2="378" stroke="#1A6FDF" stroke-width="3"/>
<polygon points="726.6,295.7 730.1,301.82 723.1,301.82" fill="#1A6FDF"/>
<polygon points="726.6,362.1 730.1,368.23 723.1,368.23" fill="#1A6FDF"/>
<line x1="655.2" y1="379" x2="656.3" y2="104" stroke="#37AD6B" stroke-width="3"/>
<polygon points="655.26,367.45 659.01,360.89 651.51,360.89" fill="#37AD6B"/>
<polygon points="655.32,351.95 659.07,345.39 651.57,345.39" fill="#37AD6B"/>
<polygon points="655.39,336.45 659.14,329.89 651.64,329.89" fill="#37AD6B"/>
<polygon points="655.45,320.95 659.2,314.39 651.7,314.39" fill="#37AD6B"/>
<polygon points="655.51,305.45 659.26,298.89 651.76,298.89" fill="#37AD6B"/>
<polygon points="655.57,289.95 659.32,283.39 651.82,283.39" fill="#37AD6B"/>
<polygon points="655.63,274.45 659.38,267.89 651.88,267.89" fill="#37AD6B"/>
<polygon points="655.7,258.95 659.45,252.39 651.95,252.39" fill="#37AD6B"/>
<polygon points="655.76,243.45 659.51,236.89 652.01,236.89" fill="#37AD6B"/>
<polygon points="655.82,227.95 659.57,221.39 652.07,221.39" fill="#37AD6B"/>
<polygon points="655.88,212.45 659.63,205.89 652.13,205.89" fill="#37AD6B"/>
<polygon points="655.94,196.95 659.69,190.39 652.19,190.39" fill="#37AD6B"/>
<polygon points="656.01,181.45 659.76,174.89 652.26,174.89" fill="#37AD6B"/>
<polygon points="656.07,165.95 659.82,159.39 652.32,159.39" fill="#37AD6B"/>
<polygon points="656.13,150.45 659.88,143.89 652.38,143.89" fill="#37AD6B"/>
<polygon points="656.19,134.95 659.94,128.39 652.44,128.39" fill="#37AD6B"/>
<polygon points="656.25,119.45 660,112.89 652.5,112.89" fill="#37AD6B"/>
<path d="M654.07,106.3 L654.17,107.16 L654.26,108.01 L654.36,108.86 L654.45,109.7 L654.54,110.55 L654.63,111.39 L654.72,112.24 L654.81,113.08 L654.89,113.92 L654.98,114.76 L655.06,115.6 L655.14,116.44 L655.22,117.28 L655.29,118.11 L655.37,118.95 L655.44,119.78 L655.52,120.62 L655.59,121.45 L655.66,122.28 L655.73,123.11 L655.8,123.95 L655.86,124.78 L655.93,125.61 L656,126.44 L656.06,127.27 L656.12,128.1 L656.19,128.93 L656.25,129.76 L656.31,130.59 L656.37,131.41 L656.43,132.24 L656.49,133.07 L656.55,133.9 L656.61,134.73 L656.67,135.56 L656.73,136.39 L656.79,137.22 L656.85,138.05 L656.9,138.88 L656.96,139.71 L657.02,140.54 L657.08,141.37 L657.14,142.2 L657.2,143.04 L657.26,143.87 L657.31,144.7 L657.37,145.54 L657.43,146.37 L657.49,147.21 L657.55,148.04 L657.62,148.88 L657.68,149.72 L657.74,150.56 L657.8,151.4 L657.87,152.24 L657.93,153.08 L658,153.93 L658.06,154.77 L658.13,155.62 L658.2,156.47 L658.27,157.31 L658.34,158.17 L658.41,159.02 L658.48,159.87 L658.56,160.72 L658.63,161.58 L658.71,162.44 L658.79,163.3 L658.87,164.16 L658.95,165.02 L659.04,165.89 L659.12,166.75 L659.21,167.62 L659.28,168.49 L659.31,169.37 L659.35,170.25 L659.39,171.14 L659.43,172.02 L659.47,172.91 L659.52,173.8 L659.57,174.69 L659.63,175.59 L659.69,176.48 L659.76,177.37 L659.83,178.27 L659.9,179.17 L659.99,180.06 L660.08,180.96 L660.18,181.85 L660.28,182.75 L660.39,183.64 L660.51,184.53 L660.64,185.43 L660.78,186.32 L660.93,187.21 L661.09,188.09 L661.25,188.98 L661.43,189.86 L661.62,190.74 L661.82,191.62 L662.04,192.5 L662.26,193.37 L662.5,194.24 L662.76,195.1 L663.02,195.96 L663.3,196.82 L663.6,197.67 L663.91,198.52 L664.24,199.36 L664.6,200.19 L665,201 L665.42,201.8 L665.86,202.59 L666.32,203.37 L666.79,204.15 L667.28,204.91 L667.78,205.66 L668.31,206.4 L668.84,207.12 L669.39,207.84 L669.96,208.54 L670.54,209.22 L671.13,209.9 L671.74,210.56 L672.36,211.21 L673,211.84 L673.64,212.47 L674.3,213.08 L674.97,213.67 L675.65,214.26 L676.35,214.83 L677.05,215.39 L677.77,215.93 L678.49,216.47 L679.23,216.99 L679.98,217.49 L680.73,217.99 L681.5,218.47 L682.27,218.94 L683.05,219.4 L683.85,219.84 L684.64,220.27 L685.45,220.69 L686.27,221.1 L687.09,221.49 L687.92,221.87 L688.76,222.24 L689.61,222.59 L690.46,222.94 L691.31,223.27 L692.18,223.59 L693.05,223.89 L693.92,224.19 L694.8,224.47 L695.68,224.74 L696.56,225 L697.45,225.24 L698.34,225.48 L699.23,225.7 L700.12,225.92 L701.01,226.12 L701.91,226.32 L702.8,226.51 L703.7,226.69 L704.59,226.87 L705.49,227.03 L706.38,227.19 L707.28,227.34 L708.17,227.49 L709.06,227.63 L709.95,227.77 L710.84,227.9 L711.73,228.03 L712.61,228.16 L713.49,228.28 L714.37,228.39 L715.25,228.51 L716.12,228.62 L716.99,228.73 L717.85,228.84 L718.71,228.95 L719.56,229.06 L720.41,229.16 L721.26,229.27 L722.09,229.38 L722.93,229.48 L723.75,229.59 L724.57,229.7 L725.38,229.82 L726.18,229.93 L726.98,230.04 L727.77,230.16 L728.55,230.29 L729.32,230.41 L730.08,230.54 L731.23,230.73 L732.4,230.74 L732.4,221.74 L732.02,221.76 L731.61,221.67 L730.79,221.53 L729.96,221.4 L729.13,221.27 L728.3,221.14 L727.46,221.02 L726.62,220.9 L725.78,220.79 L724.94,220.67 L724.09,220.56 L723.24,220.45 L722.39,220.34 L721.54,220.23 L720.69,220.13 L719.83,220.02 L718.98,219.91 L718.12,219.8 L717.27,219.69 L716.41,219.58 L715.56,219.47 L714.7,219.36 L713.85,219.24 L713,219.12 L712.15,219 L711.3,218.87 L710.45,218.74 L709.61,218.61 L708.77,218.47 L707.93,218.33 L707.1,218.18 L706.27,218.02 L705.44,217.86 L704.62,217.7 L703.81,217.52 L703,217.35 L702.19,217.16 L701.39,216.97 L700.6,216.76 L699.81,216.56 L699.03,216.34 L698.25,216.11 L697.49,215.88 L696.73,215.64 L695.97,215.38 L695.23,215.12 L694.49,214.85 L693.76,214.57 L693.04,214.27 L692.32,213.97 L691.61,213.66 L690.91,213.34 L690.21,213.01 L689.53,212.67 L688.85,212.31 L688.18,211.95 L687.52,211.58 L686.87,211.2 L686.23,210.81 L685.59,210.42 L684.97,210.01 L684.36,209.59 L683.75,209.16 L683.16,208.73 L682.58,208.28 L682,207.83 L681.44,207.37 L680.89,206.9 L680.35,206.41 L679.82,205.93 L679.31,205.43 L678.8,204.92 L678.31,204.4 L677.83,203.88 L677.36,203.35 L676.9,202.8 L676.45,202.25 L676.02,201.69 L675.6,201.13 L675.19,200.55 L674.8,199.96 L674.42,199.37 L674.05,198.77 L673.69,198.15 L673.34,197.52 L673.01,196.88 L672.68,196.23 L672.33,195.59 L671.98,194.93 L671.64,194.27 L671.31,193.59 L670.98,192.91 L670.66,192.21 L670.36,191.5 L670.06,190.78 L669.76,190.05 L669.48,189.32 L669.2,188.57 L668.94,187.81 L668.68,187.05 L668.42,186.27 L668.18,185.49 L667.94,184.71 L667.7,183.91 L667.48,183.11 L667.26,182.3 L667.05,181.49 L666.84,180.67 L666.64,179.84 L666.44,179.01 L666.25,178.18 L666.07,177.34 L665.89,176.5 L665.71,175.66 L665.54,174.81 L665.37,173.96 L665.21,173.11 L665.04,172.26 L664.89,171.4 L664.73,170.55 L664.58,169.69 L664.43,168.83 L664.29,167.98 L664.18,167.12 L664.1,166.26 L664.01,165.4 L663.93,164.55 L663.85,163.69 L663.77,162.84 L663.69,161.99 L663.61,161.14 L663.54,160.29 L663.47,159.44 L663.39,158.59 L663.32,157.75 L663.25,156.9 L663.18,156.06 L663.11,155.22 L663.05,154.38 L662.98,153.54 L662.92,152.7 L662.85,151.86 L662.79,151.02 L662.73,150.19 L662.66,149.35 L662.6,148.52 L662.54,147.68 L662.48,146.85 L662.42,146.01 L662.36,145.18 L662.3,144.35 L662.24,143.52 L662.18,142.68 L662.13,141.85 L662.07,141.02 L662.01,140.19 L661.95,139.36 L661.89,138.53 L661.83,137.7 L661.78,136.87 L661.72,136.04 L661.66,135.21 L661.6,134.37 L661.54,133.54 L661.48,132.71 L661.42,131.88 L661.36,131.05 L661.3,130.22 L661.24,129.38 L661.17,128.55 L661.11,127.72 L661.05,126.88 L660.98,126.05 L660.91,125.21 L660.85,124.38 L660.78,123.54 L660.71,122.7 L660.64,121.86 L660.57,121.02 L660.5,120.18 L660.42,119.34 L660.35,118.5 L660.27,117.66 L660.2,116.81 L660.12,115.97 L660.04,115.12 L659.95,114.27 L659.87,113.42 L659.78,112.57 L659.7,111.72 L659.61,110.87 L659.52,110.01 L659.42,109.16 L659.33,108.3 L659.23,107.44 L659.13,106.58 L659.03,105.72Z" fill="#37AD6B"/>
<line x1="732.4" y1="226.24" x2="732.4" y2="378" stroke="#37AD6B" stroke-width="3"/>
<polygon points="732.4,302.7 735.9,296.57 728.9,296.57" fill="#37AD6B"/>
<polygon points="732.4,359.5 735.9,353.38 728.9,353.38" fill="#37AD6B"/>
<circle cx="656.4" cy="105" r="2.86" fill="#F14040"/>
<path d="M715.6,377 L780,377" fill="none" stroke="#515151" stroke-width="4.5" stroke-linecap="round"/>
<path d="M721.1,376.5 L922.5,375.6" fill="none" stroke="#F14040" stroke-width="5" stroke-linecap="round"/>
<path d="M726.6,374.96 L729.31,374.84 L732.03,374.71 L734.74,374.58 L737.45,374.45 L740.17,374.32 L742.88,374.19 L745.59,374.05 L748.31,373.91 L751.02,373.78 L753.73,373.64 L756.45,373.5 L759.16,373.36 L761.87,373.22 L764.58,373.07 L767.3,372.93 L770.01,372.78 L772.72,372.64 L775.44,372.49 L778.15,372.35 L780.86,372.2 L783.58,372.05 L786.29,371.91 L789,371.76 L791.71,371.61 L794.43,371.46 L797.14,371.31 L799.85,371.17 L802.57,371.02 L805.28,370.87 L807.99,370.72 L810.7,370.58 L813.42,370.43 L816.13,370.28 L818.84,370.14 L821.56,369.99 L824.27,369.85 L826.98,369.71 L829.7,369.57 L832.41,369.42 L835.12,369.29 L837.83,369.15 L840.55,369.01 L843.26,368.87 L845.97,368.74 L848.69,368.6 L851.4,368.47 L854.12,368.34 L856.83,368.21 L859.54,368.09 L862.26,367.96 L864.97,367.84 L867.68,367.72 L870.4,367.6 L873.11,367.48 L875.83,367.37 L878.54,367.25 L881.26,367.14 L883.97,367.04 L886.68,366.93 L889.4,366.83 L892.11,366.73 L894.83,366.63 L897.54,366.54 L900.26,366.45 L902.97,366.36 L905.69,366.27 L908.4,366.19 L911.12,366.11 L913.84,366.04 L916.55,365.96 L919.27,365.9 L921.98,365.83 L924.7,365.77 L927.42,365.71 L930.13,365.66 L932.85,365.61 L935.57,365.56 L938.28,365.52 L941,365.48" fill="none" stroke="#1A6FDF" stroke-width="7" stroke-linecap="butt"/>
<polygon points="941,360.62 945.86,369.12 936.14,369.12" fill="#1A6FDF"/>
<path d="M733.31,374.33 L736.33,373.87 L739.37,373.44 L742.43,373.03 L745.52,372.65 L748.63,372.28 L751.76,371.94 L754.91,371.6 L758.07,371.29 L761.25,370.99 L764.45,370.69 L767.66,370.41 L770.89,370.14 L774.13,369.88 L777.37,369.62 L780.63,369.36 L783.9,369.11 L787.18,368.86 L790.46,368.61 L793.75,368.35 L797.05,368.09 L800.35,367.83 L803.65,367.56 L806.95,367.28 L810.26,366.99 L813.56,366.69 L816.87,366.38 L820.17,366.05 L823.47,365.71 L826.76,365.34 L830.05,364.96 L833.33,364.56 L836.61,364.13 L839.87,363.68 L843.13,363.21 L846.38,362.71 L849.61,362.18 L852.83,361.62 L856.04,361.02 L859.23,360.4 L862.41,359.74 L865.57,359.04 L868.71,358.3 L871.84,357.53 L874.94,356.71 L878.02,355.85 L881.08,354.94 L884.12,353.99 L887.13,353 L890.12,351.95 L893.08,350.85 L896.01,349.7 L898.92,348.5 L901.79,347.24 L904.64,345.92 L907.45,344.55 L910.23,343.12 L912.98,341.62 L915.69,340.06 L918.37,338.44 L921.01,336.75 L923.61,334.99 L926.17,333.16 L928.69,331.27 L931.18,329.3 L933.62,327.25 L936.01,325.13 L938.36,322.93 L940.67,320.66 L942.93,318.3 L945.15,315.86 L947.31,313.34 L949.43,310.73 L951.49,308.04 L953.51,305.26 L955.47,302.39 L957.38,299.43 L959.23,296.37 L961.03,293.22 L962.77,289.98" fill="none" stroke="#37AD6B" stroke-width="8" stroke-linecap="butt"/>
<polygon points="957.97,286.48 967.97,286.48 963.77,292.98" fill="#37AD6B"/>
<line x1="655.34" y1="379.7" x2="655.34" y2="373.7" stroke="#000" stroke-width="2.2"/>
<line x1="710.41" y1="379.7" x2="710.41" y2="373.7" stroke="#000" stroke-width="2.2"/>
<line x1="765.48" y1="379.7" x2="765.48" y2="373.7" stroke="#000" stroke-width="2.2"/>
<line x1="820.55" y1="379.7" x2="820.55" y2="373.7" stroke="#000" stroke-width="2.2"/>
<line x1="875.62" y1="379.7" x2="875.62" y2="373.7" stroke="#000" stroke-width="2.2"/>
<line x1="930.69" y1="379.7" x2="930.69" y2="373.7" stroke="#000" stroke-width="2.2"/>
<line x1="985.76" y1="379.7" x2="985.76" y2="373.7" stroke="#000" stroke-width="2.2"/>
<line x1="627.8" y1="379.7" x2="627.8" y2="376.2" stroke="#000" stroke-width="2"/>
<line x1="682.87" y1="379.7" x2="682.87" y2="376.2" stroke="#000" stroke-width="2"/>
<line x1="737.94" y1="379.7" x2="737.94" y2="376.2" stroke="#000" stroke-width="2"/>
<line x1="793.01" y1="379.7" x2="793.01" y2="376.2" stroke="#000" stroke-width="2"/>
<line x1="848.09" y1="379.7" x2="848.09" y2="376.2" stroke="#000" stroke-width="2"/>
<line x1="903.16" y1="379.7" x2="903.16" y2="376.2" stroke="#000" stroke-width="2"/>
<line x1="958.23" y1="379.7" x2="958.23" y2="376.2" stroke="#000" stroke-width="2"/>
<line x1="1013.3" y1="379.7" x2="1013.3" y2="376.2" stroke="#000" stroke-width="2"/>
<line x1="627.8" y1="379.7" x2="633.8" y2="379.7" stroke="#000" stroke-width="2.2"/>
<line x1="627.8" y1="314.86" x2="633.8" y2="314.86" stroke="#000" stroke-width="2.2"/>
<line x1="627.8" y1="250.02" x2="633.8" y2="250.02" stroke="#000" stroke-width="2.2"/>
<line x1="627.8" y1="185.18" x2="633.8" y2="185.18" stroke="#000" stroke-width="2.2"/>
<line x1="627.8" y1="120.34" x2="633.8" y2="120.34" stroke="#000" stroke-width="2.2"/>
<line x1="627.8" y1="55.5" x2="633.8" y2="55.5" stroke="#000" stroke-width="2.2"/>
<line x1="627.8" y1="347.28" x2="631.3" y2="347.28" stroke="#000" stroke-width="2"/>
<line x1="627.8" y1="282.44" x2="631.3" y2="282.44" stroke="#000" stroke-width="2"/>
<line x1="627.8" y1="217.6" x2="631.3" y2="217.6" stroke="#000" stroke-width="2"/>
<line x1="627.8" y1="152.76" x2="631.3" y2="152.76" stroke="#000" stroke-width="2"/>
<line x1="627.8" y1="87.92" x2="631.3" y2="87.92" stroke="#000" stroke-width="2"/>
<rect x="627.8" y="55.5" width="385.5" height="324.2" fill="none" stroke="#000" stroke-width="3.8"/>
<text x="655.34" y="408" text-anchor="middle" style="font-family:'Liberation Serif',serif;font-weight:bold;font-size:26px">0</text>
<text x="710.41" y="408" text-anchor="middle" style="font-family:'Liberation Serif',serif;font-weight:bold;font-size:26px">10</text>
<text x="765.48" y="408" text-anchor="middle" style="font-family:'Liberation Serif',serif;font-weight:bold;font-size:26px">20</text>
<text x="820.55" y="408" text-anchor="middle" style="font-family:'Liberation Serif',serif;font-weight:bold;font-size:26px">30</text>
<text x="875.62" y="408" text-anchor="middle" style="font-family:'Liberation Serif',serif;font-weight:bold;font-size:26px">40</text>
<text x="930.69" y="408" text-anchor="middle" style="font-family:'Liberation Serif',serif;font-weight:bold;font-size:26px">50</text>
<text x="985.76" y="408" text-anchor="middle" style="font-family:'Liberation Serif',serif;font-weight:bold;font-size:26px">60</text>
<text transform="translate(620.5,389.16) scale(0.87,1)" text-anchor="end" style="font-family:'Liberation Serif',serif;font-weight:bold;font-size:28px">0</text>
<text transform="translate(620.5,324.32) scale(0.87,1)" text-anchor="end" style="font-family:'Liberation Serif',serif;font-weight:bold;font-size:28px">10</text>
<text transform="translate(620.5,259.48) scale(0.87,1)" text-anchor="end" style="font-family:'Liberation Serif',serif;font-weight:bold;font-size:28px">20</text>
<text transform="translate(620.5,194.64) scale(0.87,1)" text-anchor="end" style="font-family:'Liberation Serif',serif;font-weight:bold;font-size:28px">30</text>
<text transform="translate(620.5,129.8) scale(0.87,1)" text-anchor="end" style="font-family:'Liberation Serif',serif;font-weight:bold;font-size:28px">40</text>
<text transform="translate(620.5,64.96) scale(0.87,1)" text-anchor="end" style="font-family:'Liberation Serif',serif;font-weight:bold;font-size:28px">50</text>
<text x="820" y="438.6" text-anchor="middle" style="font-family:'Liberation Serif',serif;font-weight:bold;font-size:27px">Time(μs)</text>
<text transform="translate(585.5,216.8) rotate(-90) scale(0.93,1)" text-anchor="middle" textLength="222.58" lengthAdjust="spacing" style="font-family:'Liberation Serif',serif;font-weight:bold;font-size:27px">Drain Current(A)</text>
<text x="542.9" y="35.3" style="font-family:'Liberation Serif',serif;font-weight:bold;font-size:44.8px">(<tspan dx="1.8" style="font-size:43.5px">b</tspan><tspan dx="-1.2">)</tspan></text>
<line x1="881.5" y1="79.5" x2="916" y2="79.5" stroke="#515151" stroke-width="3"/>
<rect x="895.7" y="76.5" width="6" height="6" fill="#515151"/>
<text x="922.3" y="85.1" style="font-family:'Liberation Serif',serif;font-weight:bold;font-size:26.5px">T=11μs</text>
<line x1="881.5" y1="117.4" x2="916" y2="117.4" stroke="#F14040" stroke-width="3"/>
<circle cx="898.7" cy="117.4" r="3.3" fill="#F14040"/>
<text x="922.3" y="123" style="font-family:'Liberation Serif',serif;font-weight:bold;font-size:26.5px">T=12μs</text>
<line x1="881.5" y1="153.7" x2="916" y2="153.7" stroke="#1A6FDF" stroke-width="3"/>
<polygon points="898.7,149.95 902.45,156.51 894.95,156.51" fill="#1A6FDF"/>
<text x="922.3" y="159.3" style="font-family:'Liberation Serif',serif;font-weight:bold;font-size:26.5px">T=13μs</text>
<line x1="881.5" y1="190.9" x2="916" y2="190.9" stroke="#37AD6B" stroke-width="3"/>
<polygon points="898.7,194.65 902.45,188.09 894.95,188.09" fill="#37AD6B"/>
<text x="922.3" y="196.5" style="font-family:'Liberation Serif',serif;font-weight:bold;font-size:26.5px">T=14μs</text></g></svg>
</body></html>
